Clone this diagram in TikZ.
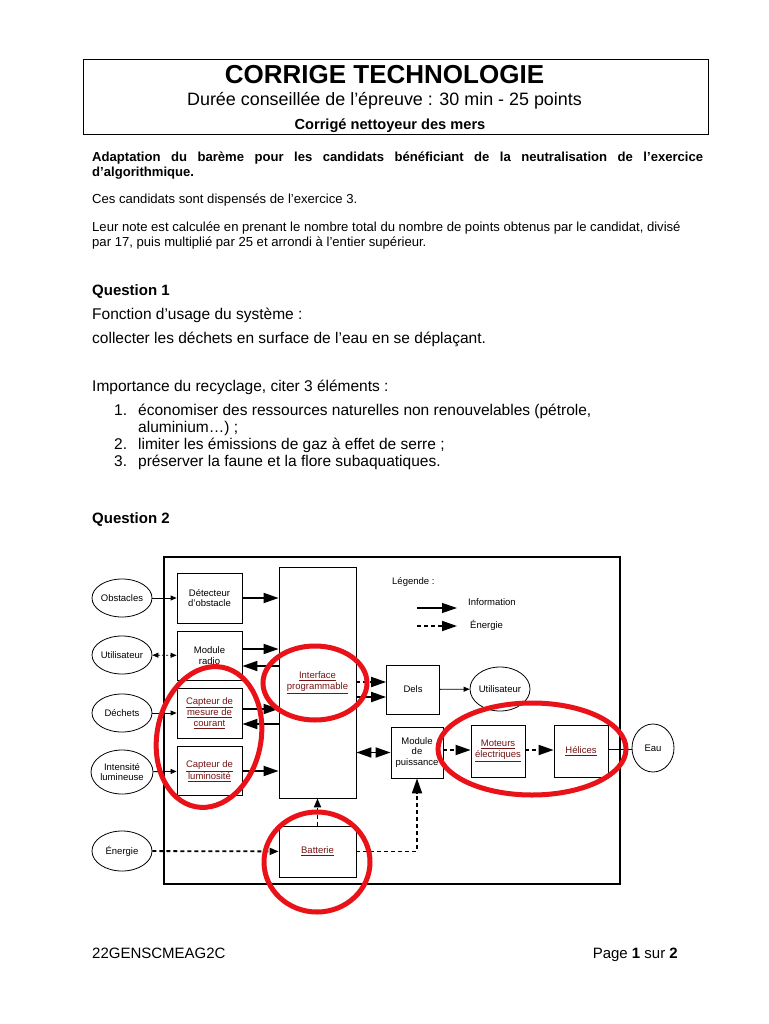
\documentclass[tikz,border=0pt]{standalone}
\usepackage{fontspec}
\setmainfont{Liberation Sans}
\usetikzlibrary{arrows.meta,calc,shapes.geometric}
\definecolor{ring}{RGB}{232,18,24}
\definecolor{brn}{RGB}{115,20,20}
\newcommand{\dia}{\fontsize{9.5}{10.8}\selectfont}
\newcommand{\bodyf}{\fontsize{15.5}{18}\selectfont}
\newcommand{\smallf}{\fontsize{13.1}{15}\selectfont}
\newcommand{\ul}[1]{\textcolor{brn}{\underline{#1}}}
\begin{document}
\begin{tikzpicture}[x=1pt,y=-1pt,
  txt/.style={anchor=base west,inner sep=0},
  blk/.style={draw,line width=0.8,align=center,inner sep=0,font=\dia},
  ell/.style={draw,ellipse,line width=0.8,align=center,inner sep=0,font=\dia},
  thick arrow/.style={line width=1.8,-{Triangle[length=15,width=10]}},
  thin arrow/.style={line width=0.8,-{Triangle[length=6,width=5]}},
  nrg/.style={line width=1.8,dash pattern=on 4 off 3,-{Triangle[length=15,width=10]}},
  ringst/.style={draw=ring,line width=5},
]
\useasboundingbox[fill=white] (0,0) rectangle (768,1024);

% header
\node[draw,line width=1,minimum width=625,minimum height=75,inner sep=0] (hdr) at (395.5,97.5) {};
\node[anchor=base,inner sep=0,font=\fontsize{26}{28}\selectfont\bfseries] (t1) at (384.5,84) {CORRIGE TECHNOLOGIE};
\node[anchor=base,inner sep=0,font=\fontsize{17.9}{20}\selectfont] (t2) at (384.5,106) {Durée conseillée de l’épreuve : 30 min - 25 points};
\node[anchor=base,inner sep=0,font=\fontsize{14.6}{16}\selectfont\bfseries] (t3) at (390,130) {Corrigé nettoyeur des mers};

% paragraphs
\node[txt,font=\smallf\bfseries] (p1) at (92,162) {\makebox[611pt][s]{Adaptation du barème pour les candidats bénéficiant de la neutralisation de l’exercice}};
\node[txt,font=\smallf\bfseries] (p2) at (92,177) {d’algorithmique.};
\node[txt,font=\smallf] (p3) at (92,204) {Ces candidats sont dispensés de l’exercice 3.};
\node[txt,font=\smallf] (p4) at (92,232) {Leur note est calculée en prenant le nombre total du nombre de points obtenus par le candidat, divisé};
\node[txt,font=\smallf] (p5) at (92,247) {par 17, puis multiplié par 25 et arrondi à l’entier supérieur.};

\node[txt,font=\fontsize{15}{17}\selectfont\bfseries] (q1) at (92,295) {Question 1};
\node[txt,font=\bodyf] (f1) at (92,319) {Fonction d’usage du système :};
\node[txt,font=\bodyf] (f2) at (92,343) {collecter les déchets en surface de l’eau en se déplaçant.};
\node[txt,font=\bodyf] (f3) at (92,391) {Importance du recyclage, citer 3 éléments :};
\node[txt,font=\bodyf] (n1) at (114,415) {1.};
\node[txt,font=\bodyf] (l1) at (138,415) {économiser des ressources naturelles non renouvelables (pétrole,};
\node[txt,font=\bodyf] (l1b) at (138,432) {aluminium…) ;};
\node[txt,font=\bodyf] (n2) at (114,449) {2.};
\node[txt,font=\bodyf] (l2) at (138,449) {limiter les émissions de gaz à effet de serre ;};
\node[txt,font=\bodyf] (n3) at (114,466) {3.};
\node[txt,font=\bodyf] (l3) at (138,466) {préserver la faune et la flore subaquatiques.};
\node[txt,font=\fontsize{15}{17}\selectfont\bfseries] (q2) at (92,523) {Question 2};

% diagram frame
\node[draw,line width=2,minimum width=456,minimum height=327,inner sep=0] (frame) at (392,720.5) {};

% blocks
\node[blk,minimum width=65,minimum height=50] (det) at (209.5,598) {Détecteur\\d’obstacle};
\node[blk,minimum width=65,minimum height=49] (radio) at (209.5,655.5) {Module\\radio};
\node[blk,minimum width=65,minimum height=50] (cour) at (209.5,713) {\ul{Capteur de}\\\ul{mesure de}\\\ul{courant}};
\node[blk,minimum width=65,minimum height=49] (lum) at (209.5,771) {\ul{Capteur de}\\\ul{luminosité}};
\node[blk,minimum width=77,minimum height=231] (iface) at (317.5,682.5) {\ul{Interface}\\\ul{programmable}};
\node[blk,minimum width=77,minimum height=51] (bat) at (317.5,851.5) {\ul{Batterie}};
\node[blk,minimum width=53,minimum height=49] (dels) at (413,689.5) {Dels};
\node[blk,minimum width=52,minimum height=51] (puis) at (417,752.5) {Module\\de\\puissance};
\node[blk,minimum width=54,minimum height=52] (mot) at (498,751) {\ul{Moteurs}\\\ul{électriques}};
\node[blk,minimum width=54,minimum height=52] (hel) at (581,751) {\ul{Hélices}};

% ellipses
\node[ell,minimum width=60,minimum height=38] (eobs) at (122,598) {Obstacles};
\node[ell,minimum width=60,minimum height=38] (euti) at (122,655) {Utilisateur};
\node[ell,minimum width=60,minimum height=38] (edec) at (122,713) {Déchets};
\node[ell,minimum width=62,minimum height=44] (eint) at (122,772) {Intensité\\lumineuse};
\node[ell,minimum width=60,minimum height=40] (eene) at (122,851) {Énergie};
\node[ell,minimum width=60,minimum height=44] (euti2) at (500,689) {Utilisateur};
\node[ell,minimum width=42,minimum height=48] (eeau) at (653,748) {Eau};

% legend
\node[txt,font=\dia] (leg) at (392,584) {Légende :};
\coordinate (li1) at (417,608);
\coordinate (li2) at (457,608);
\coordinate (le1) at (417,626);
\coordinate (le2) at (457,626);
\draw[line width=1.2,-{Triangle[length=15,width=10]}] (li1) -- (li2);
\draw[nrg] (le1) -- (le2);
\node[txt,font=\dia] (linfo) at (468,605) {Information};
\node[txt,font=\dia] (lene) at (470,628) {Énergie};

% connectors
\draw[thin arrow] (eobs) -- (det);
\draw[thick arrow] (det.east) -- (det.east -| iface.west);
\draw[line width=0.8,dash pattern=on 2 off 2,{Triangle[length=6,width=5]}-{Triangle[length=6,width=5]}] (euti) -- (radio);
\draw[thick arrow] (radio.east |- 0,649) -- (iface.west |- 0,649);
\draw[thick arrow] (iface.west |- 0,666) -- (radio.east |- 0,666);
\draw[thin arrow] (edec) -- (cour);
\draw[thick arrow] (cour.east |- 0,709) -- (iface.west |- 0,709);
\draw[thick arrow] (iface.west |- 0,724) -- (cour.east |- 0,724);
\draw[thin arrow] (eint) -- (lum);
\draw[thick arrow] (lum.east) -- (lum.east -| iface.west);
\draw[nrg] (iface.east |- 0,682) -- (dels.west |- 0,682);
\draw[thick arrow] (iface.east |- 0,697) -- (dels.west |- 0,697);
\draw[thin arrow] (dels) -- (euti2);
\draw[line width=1.8,{Triangle[length=15,width=10]}-{Triangle[length=15,width=10]}] (iface.east |- puis.west) -- (puis.west);
\draw[nrg] (puis.east |- 0,750) -- (mot.west |- 0,750);
\draw[nrg] (mot.east |- 0,750) -- (hel.west |- 0,750);
\draw[line width=0.8] (hel.east |- 0,749) -- (eeau.west |- 0,749);
\draw[line width=1.8,dash pattern=on 4 off 3,-{Triangle[length=9,width=7]}] (eene) -- (bat);
\draw[line width=1.8,dash pattern=on 4 off 3,-{Triangle[length=9,width=7]}] (bat.north) -- (iface.south);
\draw[nrg] (bat.east) -| (puis.south);

% red rings
\draw[ringst,rotate around={-11:(209,737)}] (209,737) ellipse [x radius=52,y radius=71];
\draw[ringst] (315,683) ellipse [x radius=52,y radius=37];
\draw[ringst] (532,749) ellipse [x radius=94,y radius=46];
\draw[ringst] (317,862) ellipse [x radius=53,y radius=50];

% footer
\node[txt,font=\fontsize{15}{17}\selectfont] (foot1) at (92,958) {22GENSCMEAG2C};
\node[anchor=base east,inner sep=0,font=\fontsize{15}{17}\selectfont] (foot2) at (678,958) {Page \textbf{1} sur \textbf{2}};
\end{tikzpicture}
\end{document}
